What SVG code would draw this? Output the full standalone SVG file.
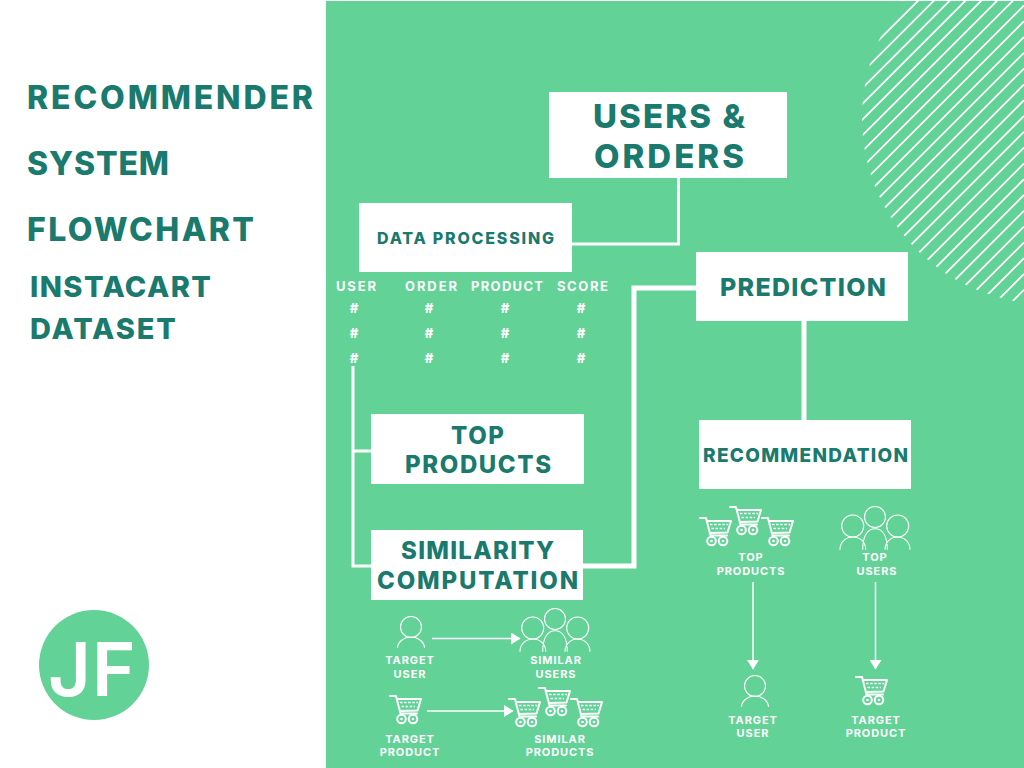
<svg xmlns="http://www.w3.org/2000/svg" width="1024" height="768" viewBox="0 0 1024 768">
<style>
text{font-family:"Inter","Liberation Sans",sans-serif;font-weight:800}
.t{fill:#1a7a6e}
.w{fill:#fff}
.s{fill:#fff;font-size:11px;font-weight:700;text-anchor:middle;letter-spacing:.9px}
.h{fill:#fff;font-size:13px;font-weight:700}
.n{fill:#fff;font-size:13px;font-weight:800;text-anchor:middle}
.box{fill:#fff}
.c{fill:none;stroke:#fff;stroke-linejoin:miter}
.ic{fill:none;stroke:#fff;stroke-width:1.1}
.cart{fill:none;stroke:#fff;stroke-width:2;stroke-linejoin:round;stroke-linecap:round}
.dash{fill:none;stroke:#fff;stroke-width:1.5;stroke-dasharray:2.5 1.6}
</style>
<defs>
<marker id="arrow" markerUnits="userSpaceOnUse" markerWidth="10" markerHeight="12" refX="9" refY="6" orient="auto"><path d="M0,0 L9.500,6 L0,12 Z" fill="#fff"/></marker>
<clipPath id="disc"><circle cx="1048" cy="118" r="186"/></clipPath>
<g id="cart">
<path class="cart" d="M1,2 H7 L11.500,19.500 H28 M8,5 H32 L28.500,16.500 L11,17"/>
<path class="dash" d="M11,8.500 H29 M12.500,12.500 H26"/>
<circle class="cart" cx="12.500" cy="25" r="4.300"/>
<circle class="cart" cx="24" cy="25" r="4.300"/>
<circle cx="12.500" cy="25" r="1.300" fill="#fff"/>
<circle cx="24" cy="25" r="1.300" fill="#fff"/>
</g>
<g id="person">
<circle class="ic" cx="0" cy="0" r="10.500"/>
<path class="ic" d="M-13.500,21 C-13.500,15 -7,10 0,10 C7,10 13.500,15 13.500,21"/>
</g>
<g id="people">
<circle class="ic" cx="-22.300" cy="9" r="11"/>
<circle class="ic" cx="0" cy="0" r="10.500"/>
<circle class="ic" cx="22.700" cy="9" r="11"/>
<path class="ic" d="M-35,32.700 C-35,25 -29,20 -22,20 C-15,20 -9.300,25 -9.300,32.700 M-12.300,32.700 C-12.300,18 -7,11.700 0,11.700 C7,11.700 12.300,18 12.300,32.700 M10,32.700 C10,25 16,20 22.500,20 C29,20 35,25 35,32.700"/>
</g>
</defs>

<rect width="1024" height="768" fill="#fff"/>
<rect x="326" y="1" width="698" height="767" fill="#63d297"/>
<path clip-path="url(#disc)" fill="none" stroke="#fff" stroke-width="1.800" d="M1024,-121 L800,103 M1024,-105.200 L800,118.800 M1024,-89.400 L800,134.600 M1024,-73.600 L800,150.400 M1024,-57.800 L800,166.200 M1024,-42 L800,182 M1024,-26.200 L800,197.800 M1024,-10.400 L800,213.600 M1024,5.400 L800,229.400 M1024,21.200 L800,245.200 M1024,37 L800,261 M1024,52.800 L800,276.800 M1024,68.600 L800,292.600 M1024,84.400 L800,308.400 M1024,100.200 L800,324.200 M1024,116 L800,340 M1024,131.800 L800,355.800 M1024,147.600 L800,371.600 M1024,163.400 L800,387.400 M1024,179.200 L800,403.200 M1024,195 L800,419 M1024,210.800 L800,434.800 M1024,226.600 L800,450.600 M1024,242.400 L800,466.400 M1024,258.200 L800,482.200 M1024,274 L800,498 M1024,289.800 L800,513.800"/>

<g id="title">
<text class="t" x="27" y="109" font-size="32" textLength="286" lengthAdjust="spacing">RECOMMENDER</text>
<text class="t" x="27" y="175" font-size="32" textLength="142" lengthAdjust="spacing">SYSTEM</text>
<text class="t" x="27" y="241" font-size="32" textLength="227" lengthAdjust="spacing">FLOWCHART</text>
<text class="t" x="30" y="297" font-size="29" textLength="181" lengthAdjust="spacing">INSTACART</text>
<text class="t" x="30" y="339" font-size="29" textLength="146" lengthAdjust="spacing">DATASET</text>
</g>

<g id="logo">
<circle cx="94" cy="665" r="55" fill="#63d297"/>
<text class="w" x="91" y="696" font-size="74" text-anchor="end" style="font-weight:600">J</text>
<text class="w" x="92" y="696" font-size="74" style="font-weight:600">F</text>
</g>

<g id="connectors">
<path class="c" stroke-width="3" d="M678.500,178 V244 H572"/>
<path class="c" stroke-width="5" d="M583,566 H634 V288 H696"/>
<path class="c" stroke-width="5" d="M804,321 V420"/>
<path class="c" stroke-width="3" d="M353,366 V566 H371 M353,451 H371"/>
<path class="c" stroke-width="1.500" marker-end="url(#arrow)" d="M432,638.500 H520"/>
<path class="c" stroke-width="1.500" marker-end="url(#arrow)" d="M427,711 H513"/>
<path class="c" stroke-width="1.500" marker-end="url(#arrow)" d="M753,582 V669"/>
<path class="c" stroke-width="1.500" marker-end="url(#arrow)" d="M875.500,582 V669"/>
</g>

<g id="users-orders">
<rect class="box" x="549" y="92" width="238" height="86"/>
<text class="t" x="593" y="128" font-size="33" textLength="152" lengthAdjust="spacing">USERS &amp;</text>
<text class="t" x="594" y="168" font-size="33" textLength="150" lengthAdjust="spacing">ORDERS</text>
</g>
<g id="data-processing">
<rect class="box" x="359" y="203" width="213" height="69"/>
<text class="t" x="377" y="244" font-size="16" textLength="177" lengthAdjust="spacing">DATA PROCESSING</text>
</g>
<g id="data-table">
<text class="h" x="336" y="291" textLength="40" lengthAdjust="spacing">USER</text>
<text class="h" x="405" y="291" textLength="52" lengthAdjust="spacing">ORDER</text>
<text class="h" x="471" y="291" textLength="72" lengthAdjust="spacing">PRODUCT</text>
<text class="h" x="557" y="291" textLength="51" lengthAdjust="spacing">SCORE</text>
<text class="n" x="354" y="313">#</text><text class="n" x="429" y="313">#</text><text class="n" x="505" y="313">#</text><text class="n" x="581" y="313">#</text>
<text class="n" x="354" y="338">#</text><text class="n" x="429" y="338">#</text><text class="n" x="505" y="338">#</text><text class="n" x="581" y="338">#</text>
<text class="n" x="354" y="363">#</text><text class="n" x="429" y="363">#</text><text class="n" x="505" y="363">#</text><text class="n" x="581" y="363">#</text>
</g>
<g id="prediction">
<rect class="box" x="696" y="252" width="212" height="69"/>
<text class="t" x="720" y="296" font-size="25" textLength="166" lengthAdjust="spacing">PREDICTION</text>
</g>
<g id="top-products">
<rect class="box" x="371" y="414" width="213" height="70"/>
<text class="t" x="451" y="444" font-size="24" textLength="53" lengthAdjust="spacing">TOP</text>
<text class="t" x="405" y="473" font-size="24" textLength="146" lengthAdjust="spacing">PRODUCTS</text>
</g>
<g id="similarity">
<rect class="box" x="371" y="530" width="212" height="70"/>
<text class="t" x="401" y="559" font-size="24" textLength="153" lengthAdjust="spacing">SIMILARITY</text>
<text class="t" x="377" y="589" font-size="24" textLength="201" lengthAdjust="spacing">COMPUTATION</text>
</g>
<g id="recommendation">
<rect class="box" x="699" y="420" width="212" height="69"/>
<text class="t" x="703" y="462" font-size="19" textLength="205" lengthAdjust="spacing">RECOMMENDATION</text>
</g>

<g id="target-user-a">
<use href="#person" x="411" y="627"/>
<text class="s" x="410" y="664">TARGET</text><text class="s" x="410" y="678">USER</text>
</g>
<g id="similar-users">
<use href="#people" x="555" y="619"/>
<text class="s" x="556" y="664">SIMILAR</text><text class="s" x="556" y="678">USERS</text>
</g>
<g id="target-product-a">
<use href="#cart" x="389" y="694"/>
<text class="s" x="410" y="743">TARGET</text><text class="s" x="410" y="756">PRODUCT</text>
</g>
<g id="similar-products">
<use href="#cart" x="508" y="697"/><use href="#cart" x="538" y="686"/><use href="#cart" x="570" y="697"/>
<text class="s" x="560" y="743">SIMILAR</text><text class="s" x="560" y="756">PRODUCTS</text>
</g>
<g id="top-products-icons">
<use href="#cart" x="699" y="516"/><use href="#cart" x="729" y="505"/><use href="#cart" x="761" y="516"/>
<text class="s" x="751" y="561">TOP</text><text class="s" x="751" y="575">PRODUCTS</text>
</g>
<g id="top-users">
<use href="#people" x="875" y="517"/>
<text class="s" x="875" y="561">TOP</text><text class="s" x="877" y="575">USERS</text>
</g>
<g id="target-user-b">
<use href="#person" x="755" y="686"/>
<text class="s" x="753" y="724">TARGET</text><text class="s" x="753" y="737">USER</text>
</g>
<g id="target-product-b">
<use href="#cart" x="855" y="675"/>
<text class="s" x="876" y="724">TARGET</text><text class="s" x="876" y="737">PRODUCT</text>
</g>
</svg>
